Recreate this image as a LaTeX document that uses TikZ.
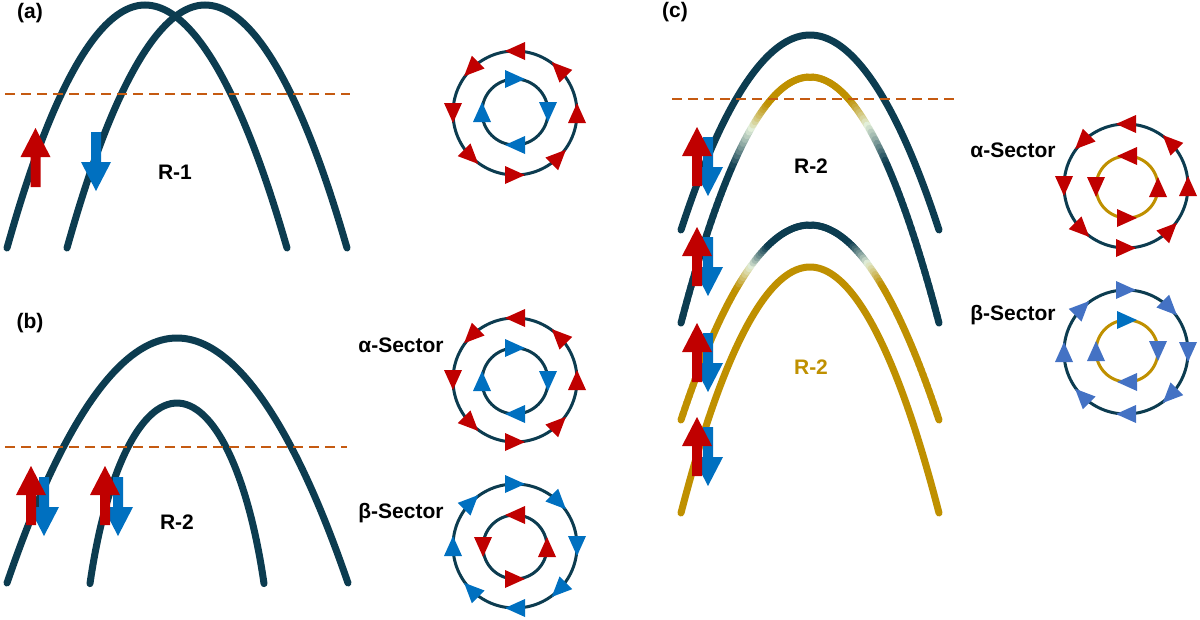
\documentclass[tikz,border=0pt]{standalone}
\usepackage{fontspec}
\setmainfont{Liberation Sans}
\definecolor{navyc}{RGB}{12,60,80}
\definecolor{redc}{RGB}{192,0,0}
\definecolor{bluec}{RGB}{0,112,192}
\definecolor{lbluec}{RGB}{68,114,196}
\definecolor{goldc}{RGB}{191,144,0}
\definecolor{orangec}{RGB}{197,90,17}
\definecolor{palec}{RGB}{226,239,217}
\newcommand\ringarrows[5]{%
  \begin{scope}[shift={#1}, x=1pt, y=1pt]
    \foreach \a in {#5}{\fill[#3, shift={(\a:#2)}, rotate=\a+#4] (10,0) -- (-10,9) -- (-10,-9) -- cycle;}
  \end{scope}}
\tikzset{
  arch/.style={line width=7pt, line cap=round},
  ring/.style={navyc, line width=3pt},
  goldring/.style={goldc, line width=3pt},
  dashline/.style={draw=orangec, line width=2.5pt, dash pattern=on 10pt off 6pt},
  lbl/.style={font=\fontsize{21}{25}\selectfont\bfseries, inner sep=0pt},
  pics/redup/.style={code={\fill[redc] (-5,0) -- (-5,-30) -- (-15,-30) -- (0,-59) -- (15,-30) -- (5,-30) -- (5,0) -- cycle;}},
  pics/bluedown/.style={code={\fill[bluec] (-5,0) -- (-5,30) -- (-15,30) -- (0,59) -- (15,30) -- (5,30) -- (5,0) -- cycle;}}
}
\begin{document}
\begin{tikzpicture}[x=1pt,y=-1pt]
\useasboundingbox (0,0) rectangle (1200,619);

% ---------------- panel (a)
\node[lbl] (la) at (30,13) {(a)};
\draw[arch, navyc] (7,248) parabola bend (145,5) (287,248);
\draw[arch, navyc] (67,248) parabola bend (205,5) (347,248);
\pic at (96,132) {bluedown};
\pic at (35.5,187) {redup};
\node[lbl] (r1) at (175,172) {R-1};
\draw[dashline] (5,94) -- (350,94);
\draw[ring] (515,113) circle (62pt);
\draw[ring] (515,112) circle (33pt);
\ringarrows{(515,113)}{62}{redc}{90}{0,45,...,315}
\ringarrows{(515,112)}{33}{bluec}{-90}{0,90,180,270}

% ---------------- panel (b)
\node[lbl] (lb) at (30,323) {(b)};
\draw[arch, navyc] (7,583) parabola bend (177,338) (348,583);
\draw[arch, navyc] plot[smooth, domain=-154.4:-25.6, samples=60] ({177+96.5*cos(\x)}, {721+318*sin(\x)});
\pic at (44,477) {bluedown};
\pic at (31,525) {redup};
\pic at (118,477) {bluedown};
\pic at (105,525) {redup};
\node[lbl] (r2b) at (177,522) {R-2};
\draw[dashline] (5,447) -- (347,447);
\node[lbl] (alb) at (401,345) {α-Sector};
\node[lbl] (beb) at (401,513) {β-Sector};
\draw[ring] (515,380) circle (62pt);
\draw[ring] (515,381) circle (33pt);
\ringarrows{(515,380)}{62}{redc}{90}{0,45,...,315}
\ringarrows{(515,381)}{33}{bluec}{-90}{0,90,180,270}
\draw[ring] (515,546) circle (62pt);
\draw[ring] (515,547) circle (32pt);
\ringarrows{(515,546)}{62}{bluec}{-90}{0,45,...,315}
\ringarrows{(515,547)}{32}{redc}{90}{0,90,180,270}

% ---------------- panel (c)
\node[lbl] (lc) at (675,12) {(c)};
\draw[arch, navyc] (681,230) parabola bend (810,35) (939,230);
\draw[arch, goldc] (681,513) parabola bend (810,267) (939,513);
% gradient arch: gold top -> pale -> navy
\foreach \i in {0,...,128}{
  \pgfmathsetmacro\xa{-129+2*\i}
  \pgfmathsetmacro\xb{\xa+2}
  \pgfmathsetmacro\XA{810+\xa}
  \pgfmathsetmacro\XB{810+\xb}
  \pgfmathsetmacro\ya{77+0.01478*(\xa)*(\xa)}
  \pgfmathsetmacro\yb{77+0.01478*(\xb)*(\xb)}
  \pgfmathsetmacro\ym{(\ya+\yb)/2}
  \pgfmathtruncatemacro\pa{max(0,min(100,4*(127-\ym)))}
  \pgfmathtruncatemacro\pb{max(0,min(100,2.632*(165-\ym)))}
  \colorlet{segA}{goldc!\pa!palec}
  \colorlet{segC}{segA!\pb!navyc}
  \draw[arch, segC] (\XA,\ya) -- (\XB,\yb);
}
% gradient arch: navy top -> pale -> gold
\foreach \i in {0,...,128}{
  \pgfmathsetmacro\xa{-129+2*\i}
  \pgfmathsetmacro\xb{\xa+2}
  \pgfmathsetmacro\XA{810+\xa}
  \pgfmathsetmacro\XB{810+\xb}
  \pgfmathsetmacro\ya{225+0.01172*(\xa)*(\xa)}
  \pgfmathsetmacro\yb{225+0.01172*(\xb)*(\xb)}
  \pgfmathsetmacro\ym{(\ya+\yb)/2}
  \pgfmathtruncatemacro\pa{max(0,min(100,5*(265-\ym)))}
  \pgfmathtruncatemacro\pb{max(0,min(100,4.545*(287-\ym)))}
  \colorlet{segA}{navyc!\pa!palec}
  \colorlet{segC}{segA!\pb!goldc}
  \draw[arch, segC] (\XA,\ya) -- (\XB,\yb);
}
\foreach \t in {127,227,323,417}{
  \pic at (708,\t+10) {bluedown};
  \pic at (697,\t+59) {redup};
}
\node[lbl] (r2c) at (811,166) {R-2};
\node[lbl, text=goldc] (r2g) at (811,367) {R-2};
\draw[dashline] (672,99) -- (955,99);
\node[lbl] (alc) at (1013,150) {α-Sector};
\node[lbl] (bec) at (1013,315) {β-Sector};
\draw[ring] (1126,186) circle (62pt);
\draw[goldring] (1127,187) circle (31pt);
\ringarrows{(1126,186)}{62}{redc}{90}{0,45,...,315}
\ringarrows{(1127,187)}{31}{redc}{90}{0,90,180,270}
\draw[ring] (1126,352) circle (62pt);
\draw[goldring] (1127,351) circle (31pt);
\ringarrows{(1126,352)}{62}{lbluec}{-90}{0,45,...,315}
\ringarrows{(1127,351)}{31}{lbluec}{-90}{0,180,270}
\ringarrows{(1127,351)}{31}{bluec}{-90}{90}
\end{tikzpicture}
\end{document}
